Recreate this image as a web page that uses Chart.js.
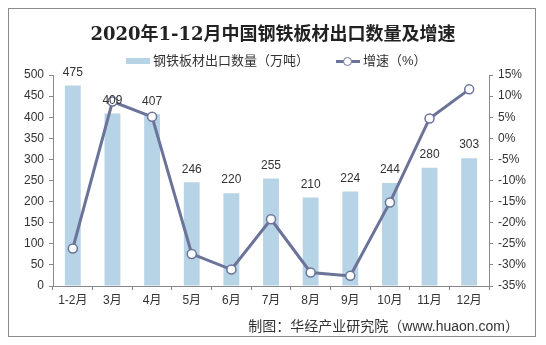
<!DOCTYPE html>
<html>
<head>
<meta charset="utf-8">
<script src="https://cdn.jsdelivr.net/npm/chart.js@4.4.0/dist/chart.umd.min.js"></script>
<style>
  body { margin: 0; background: #fff; overflow: hidden; }
  #wrap { position: relative; width: 546px; height: 345px; font-family: "Liberation Sans", "Noto Sans CJK SC", sans-serif; color: #333; }
  #frame { position: absolute; left: 8px; top: 8px; width: 528px; height: 329px; border: 1px solid #8c8c8c; box-sizing: border-box; }
  canvas { position: absolute; left: 0; top: 0; }
  .title { position: absolute; left: 0; width: 546px; top: 19px; text-align: center; font: bold 18px "DejaVu Serif", "Noto Sans CJK SC", serif; color: #222; }
  .legend { position: absolute; top: 53px; font-size: 13px; line-height: 16px; white-space: nowrap; }
  .swatch { position: absolute; left: 126px; top: 58px; width: 24px; height: 6px; background: #b7d3e6; }
  .lline { position: absolute; left: 336px; top: 60px; width: 24px; height: 3px; background: #6b7399; }
  .ldot { position: absolute; left: 343px; top: 57px; width: 7px; height: 7px; border: 1.5px solid #6b7399; border-radius: 50%; background: #fff; }
  .source { position: absolute; right: 27px; top: 315px; font-size: 14px; white-space: nowrap; color: #333; }
</style>
</head>
<body>
<div id="wrap">
  <div id="frame"></div>
  <canvas id="chart" width="546" height="345"></canvas>
  <div class="title">2020年1-12月中国钢铁板材出口数量及增速</div>
  <div class="swatch"></div>
  <div class="legend" style="left:153px">钢铁板材出口数量（万吨）</div>
  <div class="lline"></div>
  <div class="ldot"></div>
  <div class="legend" style="left:363px">增速（%）</div>
  <div class="source">制图：华经产业研究院（www.huaon.com）</div>
</div>
<script>
const months = ["1-2月", "3月", "4月", "5月", "6月", "7月", "8月", "9月", "10月", "11月", "12月"];
const exportVolume = [475, 409, 407, 246, 220, 255, 210, 224, 244, 280, 303];
const growthRate = [-26.1, 8.7, 5.1, -27.4, -31.1, -19.2, -31.8, -32.6, -15.2, 4.7, 11.6];

const barColor = "#b7d3e6";
const lineColor = "#6b7399";
const tickFont = { family: "'Liberation Sans', 'Noto Sans CJK SC', sans-serif", size: 12 };

// bar value labels, drawn last so they sit over the line markers
const barLabels = {
  id: "barLabels",
  afterDatasetsDraw(chart) {
    const ctx = chart.ctx;
    const meta = chart.getDatasetMeta(0);
    ctx.save();
    ctx.font = "12px 'Liberation Sans', sans-serif";
    ctx.fillStyle = "#333";
    ctx.textAlign = "center";
    ctx.textBaseline = "middle";
    meta.data.forEach((bar, i) => {
      ctx.fillText(exportVolume[i], bar.x, bar.y - 13);
    });
    ctx.restore();
  },
};

new Chart(document.getElementById("chart"), {
  type: "bar",
  data: {
    labels: months,
    datasets: [
      {
        label: "钢铁板材出口数量（万吨）",
        data: exportVolume,
        backgroundColor: barColor,
        yAxisID: "y",
        order: 2,
        categoryPercentage: 1,
        barPercentage: 0.4,
      },
      {
        type: "line",
        label: "增速（%）",
        data: growthRate,
        yAxisID: "y1",
        borderColor: lineColor,
        borderWidth: 3,
        pointRadius: 4.5,
        pointBorderWidth: 1.5,
        pointBackgroundColor: "#fff",
        pointBorderColor: lineColor,
        tension: 0,
        order: 1,
      },
    ],
  },
  options: {
    responsive: false,
    animation: false,
    layout: { padding: { left: 8, right: 9, top: 75, bottom: 37 } },
    plugins: {
      legend: { display: false },
      tooltip: { enabled: false },
    },
    scales: {
      x: {
        grid: { drawOnChartArea: false, tickLength: 4, color: "#888" },
        border: { color: "#888" },
        ticks: { color: "#333", font: tickFont, padding: 3, maxRotation: 0 },
        afterFit: (axis) => { axis.height = 22; },
      },
      y: {
        position: "left",
        min: 0,
        max: 500,
        grid: { drawOnChartArea: false, tickLength: 4, color: "#888" },
        border: { color: "#888" },
        ticks: { stepSize: 50, color: "#333", font: tickFont, padding: 5 },
        afterFit: (axis) => { axis.width = 45; },
      },
      y1: {
        position: "right",
        min: -35,
        max: 15,
        grid: { drawOnChartArea: false, tickLength: 4, color: "#888" },
        border: { color: "#888" },
        ticks: { stepSize: 5, color: "#333", font: tickFont, padding: 5, callback: (v) => v + "%" },
        afterFit: (axis) => { axis.width = 48; },
      },
    },
  },
  plugins: [barLabels],
});
</script>
</body>
</html>
